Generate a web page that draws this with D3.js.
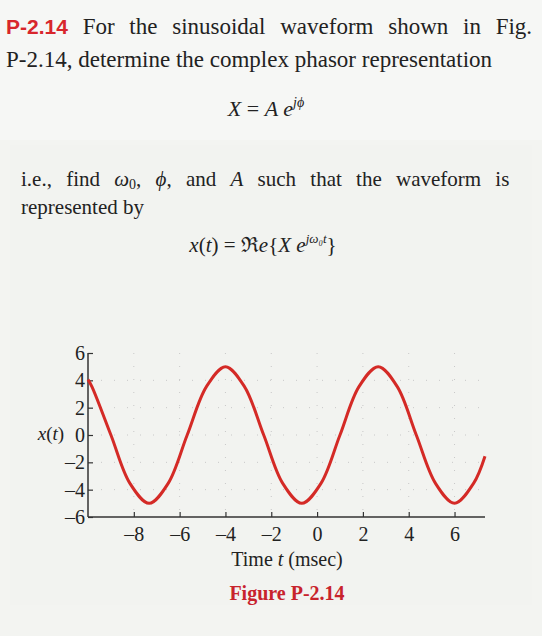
<!DOCTYPE html>
<html><head><meta charset="utf-8">
<script src="https://cdn.jsdelivr.net/npm/d3@7"></script>
<style>
body{margin:0;background:#f3f4f1;}
svg{display:block;font-family:"Liberation Serif",serif;}
</style></head>
<body>
<svg id="fig" width="542" height="636"></svg>
<script>
// waveform points (t in msec, x(t))
var times = [-10, -9.83, -9.0, -8.17, -7.33, -6.5, -5.67, -4.83, -4.0, -3.17, -2.33, -1.5, -0.67,
  0.17, 1.0, 1.83, 2.67, 3.5, 4.33, 5.17, 6.0, 6.83, 7.33];
var values = [4.05, 3.54, 0, -3.54, -5, -3.54, 0, 3.54, 5, 3.54, 0, -3.54, -5,
  -3.54, 0, 3.54, 5, 3.54, 0, -3.54, -5, -3.54, -1.55];
var xTicks = [-8, -6, -4, -2, 0, 2, 4, 6];
var yTicks = [-6, -4, -2, 0, 2, 4, 6];

var svg = d3.select('#fig');

// page background panels
svg.append('rect').attr('width', 542).attr('height', 140).attr('fill', '#f6f7f5');
svg.append('rect').attr('x', 10).attr('y', 145).attr('width', 522).attr('height', 460).attr('fill', '#f2f3f0');

// problem text
var t1 = svg.append('text').attr('x', 6).attr('y', 34).attr('font-size', 23).attr('fill', '#222')
  .attr('word-spacing', 9);
t1.append('tspan').attr('font-family', 'Liberation Sans, sans-serif').attr('font-weight', 'bold')
  .attr('fill', '#d8262c').attr('font-size', 21).text('P-2.14');
t1.append('tspan').text(' For the sinusoidal waveform shown in Fig.');
svg.append('text').attr('x', 6).attr('y', 67).attr('font-size', 23).attr('fill', '#222')
  .text('P-2.14, determine the complex phasor representation');

var f1 = svg.append('text').attr('x', 266).attr('y', 116).attr('text-anchor', 'middle')
  .attr('font-size', 22).attr('fill', '#222');
f1.append('tspan').attr('font-style', 'italic').text('X');
f1.append('tspan').text(' = ');
f1.append('tspan').attr('font-style', 'italic').text('A e');
f1.append('tspan').attr('font-style', 'italic').attr('font-size', 14).attr('dy', -9).text('jϕ');

var t2 = svg.append('text').attr('x', 21).attr('y', 186).attr('font-size', 21).attr('fill', '#222')
  .attr('word-spacing', 9);
t2.append('tspan').text('i.e., find ');
t2.append('tspan').attr('font-style', 'italic').text('ω');
t2.append('tspan').attr('font-size', 14).attr('dy', 3).text('0');
t2.append('tspan').attr('dy', -3).text(', ');
t2.append('tspan').attr('font-style', 'italic').text('ϕ');
t2.append('tspan').text(', and ');
t2.append('tspan').attr('font-style', 'italic').text('A');
t2.append('tspan').text(' such that the waveform is');
svg.append('text').attr('x', 21).attr('y', 214).attr('font-size', 21).attr('fill', '#222').text('represented by');

var f2 = svg.append('text').attr('x', 263).attr('y', 252).attr('text-anchor', 'middle')
  .attr('font-size', 21).attr('fill', '#222');
f2.append('tspan').attr('font-style', 'italic').text('x');
f2.append('tspan').text('(');
f2.append('tspan').attr('font-style', 'italic').text('t');
f2.append('tspan').text(') = ℜ');
f2.append('tspan').attr('font-style', 'italic').text('e');
f2.append('tspan').text('{');
f2.append('tspan').attr('font-style', 'italic').text('X e');
f2.append('tspan').attr('font-style', 'italic').attr('font-size', 13).attr('dy', -9).text('jω₀t');
f2.append('tspan').attr('dy', 9).text('}');

// chart
var pLeft = 88, pRight = 485, pTop = 353, pBottom = 517;
var x = d3.scaleLinear().domain([-10, 7.33]).range([pLeft, pRight]);
var y = d3.scaleLinear().domain([-6, 6]).range([pBottom, pTop]);

var g = svg.append('g');

// faint dotted grid
g.selectAll('.gx').data(xTicks).join('line')
  .attr('x1', function(d) { return x(d); }).attr('x2', function(d) { return x(d); })
  .attr('y1', pTop).attr('y2', pBottom)
  .attr('stroke', '#c8c8c8').attr('stroke-width', 1).attr('stroke-dasharray', '1,12');
g.selectAll('.gy').data(yTicks.slice(1, -1)).join('line')
  .attr('y1', function(d) { return y(d); }).attr('y2', function(d) { return y(d); })
  .attr('x1', pLeft).attr('x2', pRight)
  .attr('stroke', '#c8c8c8').attr('stroke-width', 1).attr('stroke-dasharray', '1,12');

function fmt(d) { return d < 0 ? '–' + (-d) : d; }
var xAxis = g.append('g').attr('transform', 'translate(0,' + pBottom + ')')
  .call(d3.axisBottom(x).tickValues(xTicks).tickSize(-5).tickPadding(10).tickFormat(fmt));
var yAxis = g.append('g').attr('transform', 'translate(' + pLeft + ',0)')
  .call(d3.axisLeft(y).tickValues(yTicks).tickSize(-5).tickPadding(3).tickFormat(fmt));
[xAxis, yAxis].forEach(function(a) {
  a.select('.domain').attr('stroke', '#333').attr('stroke-width', 1.5);
  a.selectAll('.tick line').attr('stroke', '#333').attr('stroke-width', 1.2);
  a.selectAll('text').attr('font-family', 'Liberation Serif, serif').attr('font-size', 20).attr('fill', '#222');
});
xAxis.select('.domain').attr('d', 'M' + pLeft + ',0H' + pRight);
yAxis.select('.domain').attr('d', 'M0,' + pTop + 'V' + pBottom);

var pts = times.map(function(t, i) { return [t, values[i]]; });
var line = d3.line().x(function(d) { return x(d[0]); }).y(function(d) { return y(d[1]); })
  .curve(d3.curveCatmullRom);
g.append('path').datum(pts).attr('d', line).attr('fill', 'none')
  .attr('stroke', '#d42a26').attr('stroke-width', 3);

var yl = svg.append('text').attr('x', 51).attr('y', 440).attr('text-anchor', 'middle')
  .attr('font-size', 19).attr('fill', '#222');
yl.append('tspan').attr('font-style', 'italic').text('x');
yl.append('tspan').text('(');
yl.append('tspan').attr('font-style', 'italic').text('t');
yl.append('tspan').text(')');

var xl = svg.append('text').attr('x', 287).attr('y', 566).attr('text-anchor', 'middle')
  .attr('font-size', 20).attr('fill', '#222');
xl.append('tspan').text('Time ');
xl.append('tspan').attr('font-style', 'italic').text('t');
xl.append('tspan').text(' (msec)');

svg.append('text').attr('x', 287).attr('y', 600).attr('text-anchor', 'middle')
  .attr('font-size', 20).attr('font-weight', 'bold').attr('fill', '#c8232c').text('Figure P-2.14');
</script>
</body></html>
